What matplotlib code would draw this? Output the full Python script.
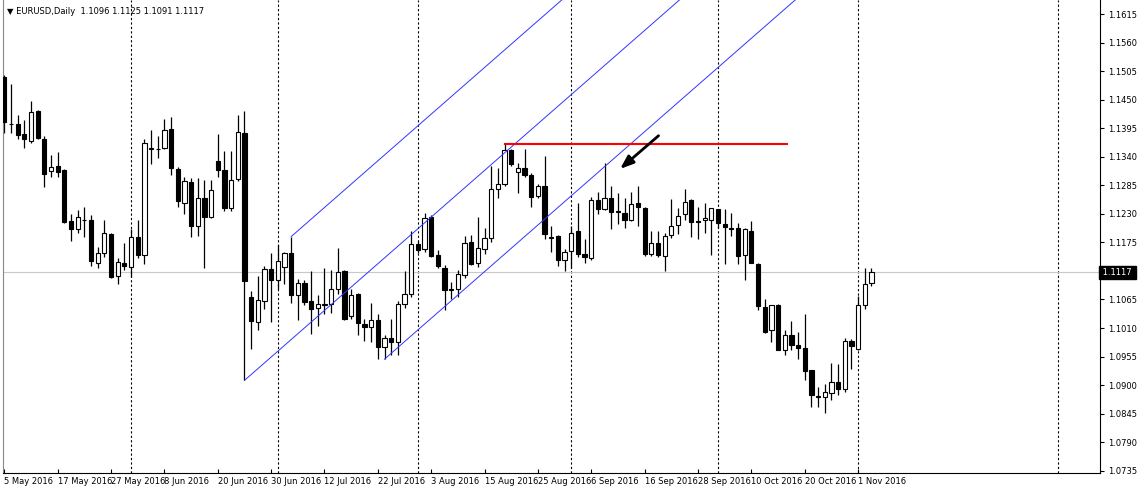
import matplotlib
matplotlib.use("Agg")
import matplotlib.pyplot as plt
import numpy as np
import pandas as pd

opens = [1.1493,1.1404,1.1404,1.1384,1.1371,1.1429,1.1375,1.1313,1.1322,1.1315,
         1.1216,1.1200,1.1218,1.1218,1.1136,1.1154,1.1192,1.1111,1.1136,1.1128,
         1.1186,1.1150,1.1355,1.1355,1.1357,1.1394,1.1316,1.1250,1.1291,1.1206,
         1.1260,1.1223,1.1332,1.1315,1.1241,1.1297,1.1386,1.1070,1.1022,1.1062,
         1.1123,1.1103,1.1128,1.1154,1.1074,1.1097,1.1062,1.1049,1.1055,1.1057,
         1.1086,1.1119,1.1034,1.1076,1.1018,1.1012,1.1026,1.0973,1.0991,1.0983,
         1.1057,1.1076,1.1171,1.1163,1.1223,1.1150,1.1126,1.1084,1.1086,1.1113,
         1.1175,1.1136,1.1163,1.1183,1.1278,1.1287,1.1353,1.1311,1.1318,1.1305,
         1.1264,1.1284,1.1183,1.1188,1.1142,1.1159,1.1196,1.1152,1.1144,1.1256,
         1.1239,1.1260,1.1235,1.1231,1.1219,1.1250,1.1241,1.1152,1.1173,1.1148,
         1.1190,1.1208,1.1229,1.1256,1.1216,1.1218,1.1219,1.1239,1.1210,1.1202,
         1.1202,1.1150,1.1196,1.1134,1.1051,1.1006,1.1055,1.0968,1.0997,1.0977,
         1.0971,1.0929,1.0878,1.0878,1.0884,1.0906,1.0892,1.0985,1.0970,1.1055,
         1.1096]
highs = [1.1497,1.1481,1.1421,1.1411,1.1448,1.1430,1.1380,1.1344,1.1349,1.1316,
         1.1229,1.1237,1.1243,1.1227,1.1167,1.1218,1.1194,1.1144,1.1173,1.1200,
         1.1219,1.1375,1.1392,1.1380,1.1413,1.1417,1.1320,1.1301,1.1299,1.1299,
         1.1295,1.1295,1.1384,1.1351,1.1351,1.1421,1.1429,1.1082,1.1111,1.1130,
         1.1154,1.1169,1.1157,1.1186,1.1105,1.1103,1.1119,1.1074,1.1125,1.1121,
         1.1165,1.1121,1.1086,1.1078,1.1028,1.1059,1.1037,1.0997,1.1028,1.1062,
         1.1119,1.1196,1.1177,1.1231,1.1227,1.1161,1.1132,1.1099,1.1121,1.1188,
         1.1190,1.1223,1.1202,1.1322,1.1318,1.1365,1.1355,1.1328,1.1355,1.1309,
         1.1287,1.1342,1.1206,1.1190,1.1163,1.1206,1.1250,1.1181,1.1262,1.1272,
         1.1328,1.1284,1.1270,1.1260,1.1272,1.1284,1.1243,1.1196,1.1196,1.1194,
         1.1258,1.1241,1.1278,1.1258,1.1243,1.1250,1.1241,1.1240,1.1239,1.1231,
         1.1212,1.1202,1.1216,1.1135,1.1066,1.1055,1.1056,1.1006,1.1024,1.1002,
         1.1037,1.0930,1.0896,1.0902,1.0942,1.0940,1.0991,1.0989,1.1072,1.1125,
         1.1125]
lows = [1.1386,1.1386,1.1375,1.1357,1.1367,1.1375,1.1282,1.1301,1.1301,1.1212,
        1.1177,1.1194,1.1186,1.1130,1.1126,1.1146,1.1107,1.1095,1.1121,1.1109,
        1.1144,1.1134,1.1326,1.1338,1.1355,1.1305,1.1243,1.1229,1.1186,1.1188,
        1.1126,1.1222,1.1301,1.1235,1.1235,1.1293,1.0909,1.0970,1.1006,1.1047,
        1.1022,1.1086,1.1095,1.1059,1.1026,1.1055,1.0999,1.1014,1.1037,1.1039,
        1.1076,1.1026,1.1028,1.0997,1.0985,1.0983,1.0950,1.0950,1.0958,1.0958,
        1.1049,1.1070,1.1154,1.1157,1.1146,1.1125,1.1045,1.1066,1.1070,1.1107,
        1.1132,1.1128,1.1152,1.1175,1.1260,1.1284,1.1322,1.1270,1.1301,1.1243,
        1.1260,1.1181,1.1157,1.1130,1.1119,1.1126,1.1146,1.1136,1.1142,1.1229,
        1.1237,1.1200,1.1210,1.1202,1.1216,1.1206,1.1148,1.1148,1.1146,1.1119,
        1.1183,1.1192,1.1219,1.1185,1.1181,1.1194,1.1150,1.1202,1.1134,1.1188,
        1.1134,1.1103,1.1136,1.1045,1.1000,1.0983,1.0968,1.0958,1.0968,1.0950,
        1.0909,1.0857,1.0857,1.0847,1.0871,1.0880,1.0886,1.0931,1.0968,1.1047,
        1.1091]
closes = [1.1406,1.1403,1.1382,1.1375,1.1427,1.1377,1.1307,1.1320,1.1311,1.1214,
          1.1200,1.1223,1.1219,1.1140,1.1154,1.1194,1.1109,1.1138,1.1130,1.1186,
          1.1150,1.1367,1.1356,1.1354,1.1392,1.1318,1.1254,1.1293,1.1206,1.1260,
          1.1223,1.1276,1.1315,1.1241,1.1295,1.1388,1.1101,1.1024,1.1064,1.1123,
          1.1103,1.1140,1.1154,1.1074,1.1097,1.1061,1.1047,1.1057,1.1057,1.1086,
          1.1117,1.1028,1.1074,1.1020,1.1012,1.1026,1.0973,1.0991,1.0983,1.1057,
          1.1076,1.1171,1.1161,1.1222,1.1148,1.1130,1.1084,1.1086,1.1115,1.1173,
          1.1134,1.1165,1.1183,1.1278,1.1287,1.1353,1.1326,1.1318,1.1305,1.1262,
          1.1284,1.1192,1.1186,1.1142,1.1156,1.1194,1.1152,1.1146,1.1256,1.1239,
          1.1260,1.1233,1.1234,1.1219,1.1249,1.1243,1.1152,1.1173,1.1150,1.1188,
          1.1206,1.1225,1.1252,1.1214,1.1215,1.1222,1.1241,1.1212,1.1204,1.1201,
          1.1148,1.1200,1.1136,1.1053,1.1002,1.1055,1.0968,1.0997,1.0977,1.0971,
          1.0927,1.0880,1.0879,1.0886,1.0906,1.0892,1.0985,1.0975,1.1055,1.1094,
          1.1117]

start_date = "2016-05-05"
y_ticks = [1.0735,1.0790,1.0845,1.0900,1.0955,1.1010,1.1065,1.1120,1.1175,1.1230,
           1.1285,1.1340,1.1395,1.1450,1.1505,1.1560,1.1615]
channel = [(43, 1.1186), (36, 1.0909), (57, 1.0950)]
slope = 0.001124
resist_price, resist_from, resist_to = 1.1365, 75, 117.4
arrow_tail, arrow_head = (98.4, 1.1384), (92.0, 1.1313)
last = 1.1117
future_grid_bar = 158

n = len(opens)
dates = pd.bdate_range(start_date, periods=150)

fig = plt.figure(figsize=(11.4, 4.92), dpi=100)
ax = fig.add_axes([0.0026, 0.039, 0.9625, 0.961])
x0, x1 = -0.2, 164.3
ax.set_xlim(x0, x1)
ax.set_ylim(1.0731, 1.1642)

grid_bars = [i for i in range(1, len(dates)) if dates[i].month != dates[i-1].month]
grid_bars.append(future_grid_bar)
for i in grid_bars:
    ax.axvline(i, color="black", ls=(0, (2, 2)), lw=0.8, zorder=0)

ax.axhline(last, color="#c8c8c8", lw=0.8, zorder=0)

for i in range(n):
    o, h, l, c = opens[i], highs[i], lows[i], closes[i]
    ax.plot([i, i], [l, h], color="black", lw=0.9, zorder=2, solid_capstyle="butt")
    bot, top = min(o, c), max(o, c)
    hgt = max(top - bot, 0.00004)
    fc = "white" if c >= o else "black"
    ax.add_patch(plt.Rectangle((i - 0.32, bot), 0.64, hgt, facecolor=fc,
                               edgecolor="black", lw=0.8, zorder=3))

for sb, sp in channel:
    xs = np.array([sb, 170])
    ax.plot(xs, sp + slope * (xs - sb), color="#3333ff", lw=0.7, zorder=4)

ax.plot([resist_from, resist_to], [resist_price, resist_price], color="red", lw=1.5, zorder=4)
ax.annotate("", xy=arrow_head, xytext=arrow_tail,
            arrowprops=dict(arrowstyle="-|>,head_length=0.8,head_width=0.3",
                            color="black", lw=2), zorder=5)

ax.yaxis.tick_right()
ax.set_yticks(y_ticks)
ax.set_yticklabels(["" if abs(v - last) < 0.002 else f"{v:.4f}" for v in y_ticks],
                   fontsize=6)
ax.tick_params(axis="y", length=3, pad=3, direction="out")
xt = list(range(0, n, 8))
ax.set_xticks(xt)
ax.set_xticklabels([f"{dates[i].day} {dates[i].strftime('%b %Y')}" for i in xt],
                   fontsize=6, ha="left")
ax.tick_params(axis="x", length=3, pad=3, direction="in")
ax.spines["top"].set_visible(False)
ax.spines["left"].set_color("#888888")

ax.text(1.0, last, f" {last:.4f} ", transform=ax.get_yaxis_transform(),
        fontsize=6, color="white", va="center", ha="left",
        bbox=dict(boxstyle="square,pad=0.2", fc="black", ec="black"))
ax.text(0.004, 0.985, "▼ EURUSD,Daily  1.1096 1.1125 1.1091 1.1117",
        transform=ax.transAxes, fontsize=6, va="top", ha="left")

fig.savefig("out.png", dpi=100)
